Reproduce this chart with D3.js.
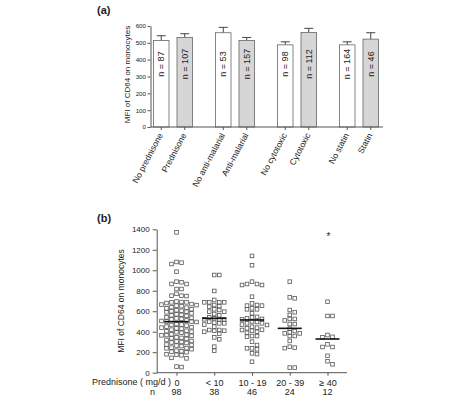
<!DOCTYPE html>
<html>
<head>
<meta charset="utf-8">
<script src="https://cdn.jsdelivr.net/npm/d3@7"></script>
<style>
  body { margin: 0; background: #fff; }
  text { font-family: "Liberation Sans", Arial, sans-serif; fill: #222; }
  .axis path, .axis line { stroke: #555; }
</style>
</head>
<body>
<div id="chart"></div>
<script>
// ---- panel (a) data ----
var drugGroups = ["prednisone", "antimalarial", "cytotoxic", "statin"];
var barLabels = ["No prednisone", "Prednisone", "No anti-malarial", "Anti-malarial",
                 "No cytotoxic", "Cytotoxic", "No statin", "Statin"];
var barMeans = [514, 532, 560, 514, 488, 562, 488, 522];
var barErrTop = [542, 554, 592, 532, 506, 586, 506, 560];
var barN = [87, 107, 53, 157, 98, 112, 164, 46];

// ---- panel (b) data ----
var doseLabels = ["0", "< 10", "10 - 19", "20 - 39", "\u2265 40"];
var doseN = [98, 38, 46, 24, 12];
var doseMedians = [498, 531, 515, 433, 329];
var dose0 = [1370, 1081, 1061, 1074, 986, 866, 883, 889, 866, 817, 817, 752, 748, 770, 752,
  687, 687, 690, 695, 680, 665, 660, 655, 650, 670, 635, 628, 620, 640,
  600, 596, 590, 605, 610, 565, 560, 555, 570, 535, 530, 525, 540, 520,
  505, 500, 510, 498, 495, 470, 466, 460, 475, 440, 433, 430, 445, 450,
  405, 400, 395, 410, 390, 370, 368, 365, 375, 360, 340, 336, 330, 345,
  305, 300, 310, 295, 290, 271, 265, 275, 260, 240, 238, 230, 245,
  205, 210, 200, 215, 175, 170, 180, 140, 145, 60, 55, 580, 420, 320];
var dose1 = [954, 954, 798, 710, 687, 687, 687, 687, 661, 651, 645, 619, 612, 596, 596, 573,
  541, 531, 521, 521, 521, 488, 482, 498, 482, 417, 410, 400, 417, 410, 345, 326, 254, 215,
  560, 470, 450, 380];
var dose2 = [1140, 1049, 889, 866, 866, 856, 856, 742, 677, 661, 655, 655, 628, 619, 619, 580,
  540, 530, 525, 520, 482, 466, 449, 433, 417, 400, 482, 470, 440, 420, 410,
  352, 358, 358, 303, 270, 238, 238, 228, 189, 182, 107, 500, 495, 390, 545];
var dose3 = [889, 726, 736, 612, 590, 564, 525, 510, 525, 475, 475, 384, 358, 358, 384, 394,
  407, 310, 245, 240, 254, 50, 50, 430];
var dose4 = [693, 554, 554, 368, 350, 346, 277, 251, 251, 165, 112, 82];
var doseValues = [dose0, dose1, dose2, dose3, dose4];
var starValue = 1345;

var svg = d3.select("#chart").append("svg")
  .attr("width", 474)
  .attr("height", 402);

// ================= panel (a) =================
var aLeft = 150.5, aRight = 383, aTop = 26, aBottom = 127;

var yA = d3.scaleLinear().domain([0, 600]).range([aBottom, aTop]);
var x0 = d3.scalePoint().domain(drugGroups).range([173, 359]);
var x1 = d3.scaleBand().domain([0, 1]).range([-19.5, 19.5]).paddingInner(0.34);

function barX(i) { return x0(drugGroups[Math.floor(i / 2)]) + x1(i % 2); }
function barCenter(i) { return barX(i) + x1.bandwidth() / 2; }

svg.append("text")
  .attr("x", 97).attr("y", 14)
  .attr("font-size", 11).attr("font-weight", "bold")
  .text("(a)");

var yAxisA = svg.append("g")
  .attr("class", "axis")
  .attr("transform", `translate(${aLeft},0)`)
  .call(d3.axisLeft(yA).tickValues(d3.range(0, 601, 100)).tickSize(3).tickSizeOuter(0).tickPadding(1.5));
yAxisA.selectAll("text").attr("font-size", 6.2).attr("fill", "#333");

svg.append("text")
  .attr("transform", `translate(130,${(aTop + aBottom) / 2 - 2}) rotate(-90)`)
  .attr("text-anchor", "middle")
  .attr("font-size", 8)
  .text("MFI of CD64 on monocytes");

var bars = svg.append("g");
barMeans.forEach(function(v, i) {
  var cx = barCenter(i);
  // error bar (upper only)
  bars.append("line")
    .attr("x1", cx).attr("x2", cx)
    .attr("y1", yA(v)).attr("y2", yA(barErrTop[i]))
    .attr("stroke", "#444").attr("stroke-width", 1);
  bars.append("line")
    .attr("x1", cx - 4.5).attr("x2", cx + 4.5)
    .attr("y1", yA(barErrTop[i])).attr("y2", yA(barErrTop[i]))
    .attr("stroke", "#444").attr("stroke-width", 1);
  bars.append("rect")
    .attr("x", barX(i))
    .attr("y", yA(v))
    .attr("width", x1.bandwidth())
    .attr("height", yA(0) - yA(v))
    .attr("fill", i % 2 ? "#d6d6d6" : "#fff")
    .attr("stroke", "#666").attr("stroke-width", 0.8);
  bars.append("text")
    .attr("transform", `translate(${cx + 3},64) rotate(-90)`)
    .attr("text-anchor", "middle")
    .attr("font-size", 9)
    .text("n = " + barN[i]);
});

// x axis line + ticks + rotated labels
svg.append("line")
  .attr("x1", aLeft).attr("x2", aRight)
  .attr("y1", aBottom).attr("y2", aBottom)
  .attr("stroke", "#555");
barLabels.forEach(function(lab, i) {
  var cx = barCenter(i);
  svg.append("line")
    .attr("x1", cx).attr("x2", cx)
    .attr("y1", aBottom).attr("y2", aBottom + 3)
    .attr("stroke", "#555");
  svg.append("text")
    .attr("transform", `translate(${cx + 2},${aBottom + 8}) rotate(-62)`)
    .attr("text-anchor", "end")
    .attr("font-size", 8.5)
    .text(lab);
});

// ================= panel (b) =================
var bLeft = 156.7, bRight = 347, bTop = 229.3, bBottom = 372.7;

var yB = d3.scaleLinear().domain([0, 1400]).range([bBottom, bTop]);
var xB = d3.scalePoint().domain(doseLabels).range([176.5, 327.5]);

svg.append("text")
  .attr("x", 97).attr("y", 222)
  .attr("font-size", 11).attr("font-weight", "bold")
  .text("(b)");

var yAxisB = svg.append("g")
  .attr("class", "axis")
  .attr("transform", `translate(${bLeft},0)`)
  .call(d3.axisLeft(yB).tickValues(d3.range(0, 1401, 200)).tickFormat(d3.format("d"))
    .tickSize(4).tickSizeOuter(0).tickPadding(3));
yAxisB.selectAll("text").attr("font-size", 8).attr("fill", "#333");

svg.append("text")
  .attr("transform", `translate(124,${(bTop + bBottom) / 2}) rotate(-90)`)
  .attr("text-anchor", "middle")
  .attr("font-size", 8.5)
  .text("MFI of CD64 on monocytes");

var xAxisB = svg.append("g")
  .attr("class", "axis")
  .attr("transform", `translate(0,${bBottom})`)
  .call(d3.axisBottom(xB).tickSize(3).tickSizeOuter(0).tickPadding(4));
xAxisB.select(".domain").attr("d", `M${bLeft},0H${bRight}`);
xAxisB.selectAll("text").attr("font-size", 9).attr("fill", "#333");

svg.append("text")
  .attr("x", 171).attr("y", 385)
  .attr("text-anchor", "end")
  .attr("font-size", 9)
  .text("Prednisone ( mg/d )");
svg.append("text")
  .attr("x", 155).attr("y", 395)
  .attr("text-anchor", "end")
  .attr("font-size", 9)
  .text("n");
svg.append("g").selectAll("text")
  .data(doseN)
  .enter()
  .append("text")
  .attr("x", (d, i) => xB(doseLabels[i]))
  .attr("y", 395)
  .attr("text-anchor", "middle")
  .attr("font-size", 9)
  .text(d => d);

// dodge layout so squares sit side by side
var box = 3.6, gap = 5, vgap = 3.6;
var pts = svg.append("g");
doseValues.forEach(function(vals, gi) {
  var cx = xB(doseLabels[gi]);
  var placed = [];
  vals.slice().sort(d3.descending).forEach(function(v) {
    var y = yB(v);
    var k = 0, off = 0;
    while (true) {
      off = (k % 2 ? 1 : -1) * Math.ceil(k / 2) * gap;
      var hit = placed.some(p => Math.abs(p.x - off) < gap - 0.2 && Math.abs(p.y - y) < vgap);
      if (!hit) break;
      k++;
    }
    placed.push({x: off, y: y});
    pts.append("rect")
      .attr("x", cx + off - box / 2)
      .attr("y", y - box / 2)
      .attr("width", box).attr("height", box)
      .attr("fill", "none")
      .attr("stroke", "#555").attr("stroke-width", 0.8);
  });
  svg.append("line")
    .attr("x1", cx - 12).attr("x2", cx + 12)
    .attr("y1", yB(doseMedians[gi])).attr("y2", yB(doseMedians[gi]))
    .attr("stroke", "#111").attr("stroke-width", 1.6);
});

svg.append("text")
  .attr("x", xB(doseLabels[4]) + 1)
  .attr("y", yB(starValue) + 5)
  .attr("text-anchor", "middle")
  .attr("font-size", 10)
  .text("*");
</script>
</body>
</html>
